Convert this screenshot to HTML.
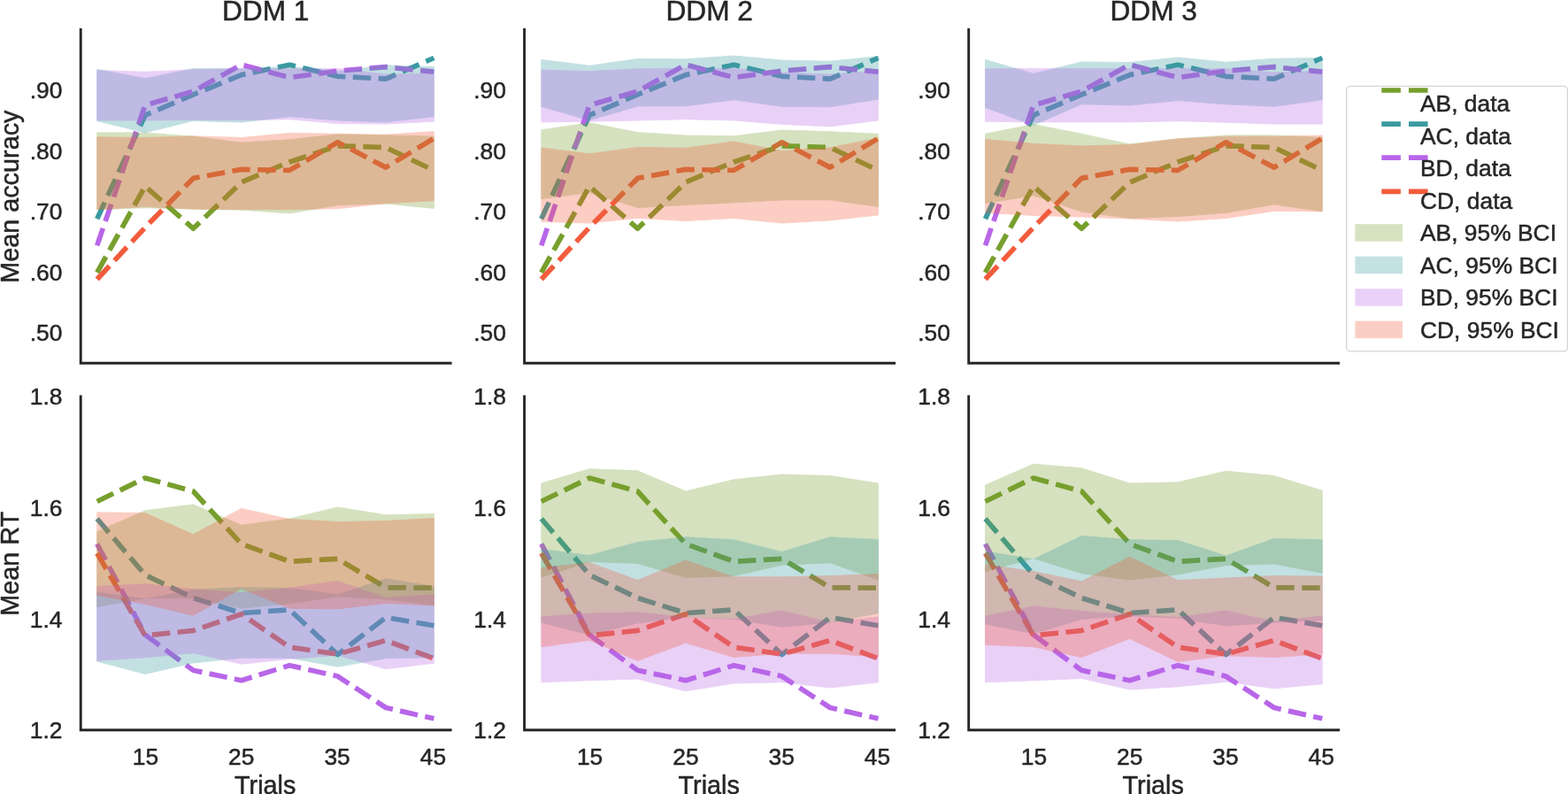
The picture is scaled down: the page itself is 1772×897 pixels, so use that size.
<!DOCTYPE html>
<html lang="en"><head><meta charset="utf-8"><title>DDM posterior predictive checks</title>
<style>html,body{margin:0;padding:0;background:#fff}body{width:1772px;height:897px;overflow:hidden}svg{display:block}text{font-family:"Liberation Sans",Arial,Helvetica,sans-serif;fill:#262626;stroke:#262626;stroke-width:0.5;stroke-linejoin:round}.t{font-size:26.4px}.l{font-size:28.8px}.h{font-size:31.7px}.g{font-size:26.4px}.sp{fill:none;stroke:#262626;stroke-width:2.9;stroke-linecap:butt;stroke-linejoin:miter}.ln{fill:none;stroke-width:5.7;stroke-dasharray:20.5 8.4;stroke-linejoin:round;stroke-linecap:butt}.bd{opacity:0.3;stroke-width:0.9;stroke-linejoin:round}.lp{fill-opacity:0.3;stroke:none}</style></head><body>
<svg width="1772" height="897" viewBox="0 0 1772 897">
<rect width="1772" height="897" fill="#fff"/>
<g>
<polyline class="ln" stroke="#779f2d" points="109.7,307.9 164,210.4 218.4,258.2 272.8,206 327.2,183 381.6,164.8 436,166.6 490.4,192.6"/>
<polyline class="ln" stroke="#3a9aa0" points="109.7,247.2 164,130.2 218.4,106.9 272.8,84.6 327.2,73.2 381.6,86.3 436,89.1 490.4,65.5"/>
<polyline class="ln" stroke="#b866e8" points="109.7,277.3 164,118.9 218.4,103.1 272.8,73.1 327.2,87.6 381.6,80.1 436,75.7 490.4,81.2"/>
<polyline class="ln" stroke="#f25c3c" points="109.7,315.5 164,257 218.4,201.4 272.8,191.4 327.2,192.4 381.6,160.7 436,189.1 490.4,156.3"/>
<polygon class="bd" fill="#779f2d" stroke="#779f2d" points="109.7,149.8 164,150 218.4,154.1 272.8,161.1 327.2,157.8 381.6,151.8 436,152.8 490.4,154.2 490.4,235.4 436,230.1 381.6,231.7 327.2,241.1 272.8,237.2 218.4,236.2 164,234.8 109.7,236.7"/>
<polygon class="bd" fill="#3a9aa0" stroke="#3a9aa0" points="109.7,78.2 164,88.7 218.4,77.4 272.8,77.8 327.2,75.2 381.6,80.5 436,73.7 490.4,75.5 490.4,131.7 436,137.9 381.6,136 327.2,131.7 272.8,138.2 218.4,136.4 164,149.9 109.7,136.7"/>
<polygon class="bd" fill="#b866e8" stroke="#b866e8" points="109.7,79.5 164,81.2 218.4,78.7 272.8,77.4 327.2,77.8 381.6,77.4 436,84 490.4,83 490.4,137.2 436,140.1 381.6,139.6 327.2,134.8 272.8,135.8 218.4,135.5 164,136 109.7,136"/>
<polygon class="bd" fill="#f25c3c" stroke="#f25c3c" points="109.7,154.8 164,155.4 218.4,153.8 272.8,155.4 327.2,150.4 381.6,151.2 436,152.2 490.4,148.5 490.4,226.7 436,229.8 381.6,235.8 327.2,236.7 272.8,236.7 218.4,236.1 164,233.6 109.7,236.7"/>
<path class="sp" d="M91.2 32V410.3H510.6"/>
<text class="t" text-anchor="end" x="70.4" y="111.1">.90</text>
<text class="t" text-anchor="end" x="70.4" y="179.6">.80</text>
<text class="t" text-anchor="end" x="70.4" y="248.1">.70</text>
<text class="t" text-anchor="end" x="70.4" y="316.6">.60</text>
<text class="t" text-anchor="end" x="70.4" y="385.1">.50</text>
<text class="h" text-anchor="middle" x="300.2" y="23">DDM 1</text>
</g>
<g>
<polyline class="ln" stroke="#779f2d" points="611.8,307.9 666.1,210.4 720.5,258.2 774.9,206 829.3,183 883.7,164.8 938.1,166.6 992.5,192.6"/>
<polyline class="ln" stroke="#3a9aa0" points="611.8,247.2 666.1,130.2 720.5,106.9 774.9,84.6 829.3,73.2 883.7,86.3 938.1,89.1 992.5,65.5"/>
<polyline class="ln" stroke="#b866e8" points="611.8,277.3 666.1,118.9 720.5,103.1 774.9,73.1 829.3,87.6 883.7,80.1 938.1,75.7 992.5,81.2"/>
<polyline class="ln" stroke="#f25c3c" points="611.8,315.5 666.1,257 720.5,201.4 774.9,191.4 829.3,192.4 883.7,160.7 938.1,189.1 992.5,156.3"/>
<polygon class="bd" fill="#779f2d" stroke="#779f2d" points="611.8,146.8 666.1,138.8 720.5,149.6 774.9,153 829.3,153.8 883.7,146.9 938.1,148.8 992.5,151.3 992.5,233.4 938.1,225.9 883.7,225.9 829.3,228.9 774.9,231.6 720.5,234.6 666.1,217.6 611.8,224.6"/>
<polygon class="bd" fill="#3a9aa0" stroke="#3a9aa0" points="611.8,67.4 666.1,74.2 720.5,66.5 774.9,66.8 829.3,63 883.7,68 938.1,69.2 992.5,63.7 992.5,112.1 938.1,120.8 883.7,120.3 829.3,112.8 774.9,119.8 720.5,120 666.1,136 611.8,120.3"/>
<polygon class="bd" fill="#b866e8" stroke="#b866e8" points="611.8,79 666.1,80.5 720.5,77.8 774.9,77 829.3,77.4 883.7,81.8 938.1,84 992.5,79.9 992.5,136 938.1,142.9 883.7,140.4 829.3,136 774.9,134.8 720.5,136 666.1,137.2 611.8,137.9"/>
<polygon class="bd" fill="#f25c3c" stroke="#f25c3c" points="611.8,166.9 666.1,173.8 720.5,166.4 774.9,167.2 829.3,159.9 883.7,170.4 938.1,166.8 992.5,155.9 992.5,242.9 938.1,248.9 883.7,252.1 829.3,246.6 774.9,249.6 720.5,246.4 666.1,252.1 611.8,250.4"/>
<path class="sp" d="M592.6 32V410.3H1012.1"/>
<text class="t" text-anchor="end" x="571.9" y="111.1">.90</text>
<text class="t" text-anchor="end" x="571.9" y="179.6">.80</text>
<text class="t" text-anchor="end" x="571.9" y="248.1">.70</text>
<text class="t" text-anchor="end" x="571.9" y="316.6">.60</text>
<text class="t" text-anchor="end" x="571.9" y="385.1">.50</text>
<text class="h" text-anchor="middle" x="801.7" y="23">DDM 2</text>
</g>
<g>
<polyline class="ln" stroke="#779f2d" points="1113.5,307.9 1167.9,210.4 1222.3,258.2 1276.7,206 1331.1,183 1385.5,164.8 1439.9,166.6 1494.3,192.6"/>
<polyline class="ln" stroke="#3a9aa0" points="1113.5,247.2 1167.9,130.2 1222.3,106.9 1276.7,84.6 1331.1,73.2 1385.5,86.3 1439.9,89.1 1494.3,65.5"/>
<polyline class="ln" stroke="#b866e8" points="1113.5,277.3 1167.9,118.9 1222.3,103.1 1276.7,73.1 1331.1,87.6 1385.5,80.1 1439.9,75.7 1494.3,81.2"/>
<polyline class="ln" stroke="#f25c3c" points="1113.5,315.5 1167.9,257 1222.3,201.4 1276.7,191.4 1331.1,192.4 1385.5,160.7 1439.9,189.1 1494.3,156.3"/>
<polygon class="bd" fill="#779f2d" stroke="#779f2d" points="1113.5,151.2 1167.9,140.6 1222.3,151.2 1276.7,162.9 1331.1,156.8 1385.5,152.9 1439.9,152.9 1494.3,155.4 1494.3,238.9 1439.9,230.9 1385.5,240.4 1331.1,244.6 1276.7,246.6 1222.3,239.1 1167.9,220.9 1113.5,229.6"/>
<polygon class="bd" fill="#3a9aa0" stroke="#3a9aa0" points="1113.5,67.4 1167.9,83.2 1222.3,69.9 1276.7,70.5 1331.1,64.9 1385.5,70.2 1439.9,66.2 1494.3,65.5 1494.3,112.8 1439.9,120.3 1385.5,117.8 1331.1,113.6 1276.7,119 1222.3,117.8 1167.9,141.4 1113.5,121.5"/>
<polygon class="bd" fill="#b866e8" stroke="#b866e8" points="1113.5,77.8 1167.9,77.4 1222.3,77.4 1276.7,77.4 1331.1,77.4 1385.5,77.8 1439.9,81.8 1494.3,80.5 1494.3,140.1 1439.9,140.1 1385.5,138.2 1331.1,136.7 1276.7,137.9 1222.3,137.9 1167.9,137.9 1113.5,137.2"/>
<polygon class="bd" fill="#f25c3c" stroke="#f25c3c" points="1113.5,157.4 1167.9,162.2 1222.3,164.9 1276.7,163.4 1331.1,156.8 1385.5,154.2 1439.9,154.2 1494.3,152.9 1494.3,238.9 1439.9,238.4 1385.5,246.6 1331.1,250.1 1276.7,247.1 1222.3,245.1 1167.9,243.4 1113.5,240.4"/>
<path class="sp" d="M1094.7 32V410.3H1514.1"/>
<text class="t" text-anchor="end" x="1073.9" y="111.1">.90</text>
<text class="t" text-anchor="end" x="1073.9" y="179.6">.80</text>
<text class="t" text-anchor="end" x="1073.9" y="248.1">.70</text>
<text class="t" text-anchor="end" x="1073.9" y="316.6">.60</text>
<text class="t" text-anchor="end" x="1073.9" y="385.1">.50</text>
<text class="h" text-anchor="middle" x="1303.7" y="23">DDM 3</text>
</g>
<g>
<polyline class="ln" stroke="#779f2d" points="109.7,566.5 164,540 218.4,555 272.8,614.5 327.2,634.3 381.6,631.3 436,663.8 490.4,664.2"/>
<polyline class="ln" stroke="#3a9aa0" points="109.7,586 164,649.5 218.4,675.5 272.8,692.6 327.2,688.8 381.6,739.5 436,697.5 490.4,706.7"/>
<polyline class="ln" stroke="#b866e8" points="109.7,614.5 164,717 218.4,757.3 272.8,768.7 327.2,751.7 381.6,764 436,799.5 490.4,811.8"/>
<polyline class="ln" stroke="#f25c3c" points="109.7,625 164,718 218.4,712.4 272.8,693.8 327.2,731.2 381.6,739 436,723.5 490.4,744"/>
<polygon class="bd" fill="#779f2d" stroke="#779f2d" points="109.7,600.7 164,576.7 218.4,570 272.8,593.2 327.2,586 381.6,573 436,581.8 490.4,580.5 490.4,683.8 436,677 381.6,673.8 327.2,681.8 272.8,687.3 218.4,675.6 164,675.9 109.7,685.6"/>
<polygon class="bd" fill="#3a9aa0" stroke="#3a9aa0" points="109.7,669.1 164,676.6 218.4,666.2 272.8,663.6 327.2,664.5 381.6,671.7 436,653.7 490.4,662.7 490.4,742.8 436,743.8 381.6,753.3 327.2,743.3 272.8,743.3 218.4,748.9 164,761.5 109.7,747.1"/>
<polygon class="bd" fill="#b866e8" stroke="#b866e8" points="109.7,662.4 164,659.7 218.4,665.7 272.8,669.7 327.2,664.2 381.6,656.4 436,675.5 490.4,671.7 490.4,749.2 436,755.8 381.6,740.2 327.2,744.6 272.8,750.2 218.4,737.8 164,742.8 109.7,746.4"/>
<polygon class="bd" fill="#f25c3c" stroke="#f25c3c" points="109.7,578.8 164,579.5 218.4,603.8 272.8,574.4 327.2,586.5 381.6,589.5 436,588.5 490.4,585.5 490.4,684.1 436,681.5 381.6,687.9 327.2,687.3 272.8,664.9 218.4,695.3 164,682.5 109.7,672.5"/>
<path class="sp" d="M91.2 446.5V824.7H510.6"/>
<text class="t" text-anchor="end" x="70.4" y="456.6">1.8</text>
<text class="t" text-anchor="end" x="70.4" y="582.6">1.6</text>
<text class="t" text-anchor="end" x="70.4" y="708.6">1.4</text>
<text class="t" text-anchor="end" x="70.4" y="834.1">1.2</text>
<text class="t" text-anchor="middle" x="164.5" y="863.8">15</text>
<text class="t" text-anchor="middle" x="272.8" y="863.8">25</text>
<text class="t" text-anchor="middle" x="381.1" y="863.8">35</text>
<text class="t" text-anchor="middle" x="489.4" y="863.8">45</text>
<text class="l" text-anchor="middle" x="299.7" y="896.5">Trials</text>
</g>
<g>
<polyline class="ln" stroke="#779f2d" points="611.8,566.5 666.1,540 720.5,555 774.9,614.5 829.3,634.3 883.7,631.3 938.1,663.8 992.5,664.2"/>
<polyline class="ln" stroke="#3a9aa0" points="611.8,586 666.1,649.5 720.5,675.5 774.9,692.6 829.3,688.8 883.7,739.5 938.1,697.5 992.5,706.7"/>
<polyline class="ln" stroke="#b866e8" points="611.8,614.5 666.1,717 720.5,757.3 774.9,768.7 829.3,751.7 883.7,764 938.1,799.5 992.5,811.8"/>
<polyline class="ln" stroke="#f25c3c" points="611.8,625 666.1,718 720.5,712.4 774.9,693.8 829.3,731.2 883.7,739 938.1,723.5 992.5,744"/>
<polygon class="bd" fill="#779f2d" stroke="#779f2d" points="611.8,546 666.1,529.8 720.5,531.8 774.9,555 829.3,541.8 883.7,536 938.1,537.5 992.5,546 992.5,655 938.1,635.8 883.7,638.3 829.3,650.8 774.9,652.5 720.5,636.5 666.1,634.5 611.8,652"/>
<polygon class="bd" fill="#3a9aa0" stroke="#3a9aa0" points="611.8,620.5 666.1,627.5 720.5,612.5 774.9,606.8 829.3,609.8 883.7,623.5 938.1,606.8 992.5,609.8 992.5,692.8 938.1,703.3 883.7,708.3 829.3,699.5 774.9,697 720.5,704 666.1,717 611.8,703.3"/>
<polygon class="bd" fill="#b866e8" stroke="#b866e8" points="611.8,696.8 666.1,693 720.5,691.8 774.9,697.5 829.3,699.5 883.7,690 938.1,703.5 992.5,696.8 992.5,770.8 938.1,777 883.7,770.8 829.3,772 774.9,780.8 720.5,767 666.1,768.8 611.8,770.8"/>
<polygon class="bd" fill="#f25c3c" stroke="#f25c3c" points="611.8,641.8 666.1,635.5 720.5,655.5 774.9,633 829.3,651.8 883.7,651.8 938.1,650.5 992.5,648.5 992.5,742 938.1,738.3 883.7,738.3 829.3,742.5 774.9,726.3 720.5,746.5 666.1,723.3 611.8,730.8"/>
<path class="sp" d="M592.6 446.5V824.7H1012.1"/>
<text class="t" text-anchor="end" x="571.9" y="456.6">1.8</text>
<text class="t" text-anchor="end" x="571.9" y="582.6">1.6</text>
<text class="t" text-anchor="end" x="571.9" y="708.6">1.4</text>
<text class="t" text-anchor="end" x="571.9" y="834.1">1.2</text>
<text class="t" text-anchor="middle" x="666.6" y="863.8">15</text>
<text class="t" text-anchor="middle" x="774.9" y="863.8">25</text>
<text class="t" text-anchor="middle" x="883.2" y="863.8">35</text>
<text class="t" text-anchor="middle" x="991.5" y="863.8">45</text>
<text class="l" text-anchor="middle" x="801.2" y="896.5">Trials</text>
</g>
<g>
<polyline class="ln" stroke="#779f2d" points="1113.5,566.5 1167.9,540 1222.3,555 1276.7,614.5 1331.1,634.3 1385.5,631.3 1439.9,663.8 1494.3,664.2"/>
<polyline class="ln" stroke="#3a9aa0" points="1113.5,586 1167.9,649.5 1222.3,675.5 1276.7,692.6 1331.1,688.8 1385.5,739.5 1439.9,697.5 1494.3,706.7"/>
<polyline class="ln" stroke="#b866e8" points="1113.5,614.5 1167.9,717 1222.3,757.3 1276.7,768.7 1331.1,751.7 1385.5,764 1439.9,799.5 1494.3,811.8"/>
<polyline class="ln" stroke="#f25c3c" points="1113.5,625 1167.9,718 1222.3,712.4 1276.7,693.8 1331.1,731.2 1385.5,739 1439.9,723.5 1494.3,744"/>
<polygon class="bd" fill="#779f2d" stroke="#779f2d" points="1113.5,548 1167.9,524.2 1222.3,528.8 1276.7,546 1331.1,544.8 1385.5,532.2 1439.9,537.5 1494.3,554.2 1494.3,647.5 1439.9,637 1385.5,638.8 1331.1,649 1276.7,655 1222.3,647.8 1167.9,630.8 1113.5,645.8"/>
<polygon class="bd" fill="#3a9aa0" stroke="#3a9aa0" points="1113.5,623 1167.9,631.8 1222.3,605.5 1276.7,609.8 1331.1,610.5 1385.5,628 1439.9,608.5 1494.3,609.8 1494.3,700.8 1439.9,703.3 1385.5,707 1331.1,698.3 1276.7,695.8 1222.3,699.5 1167.9,715.8 1113.5,705"/>
<polygon class="bd" fill="#b866e8" stroke="#b866e8" points="1113.5,696 1167.9,685 1222.3,690.5 1276.7,694.8 1331.1,697.5 1385.5,690 1439.9,702.2 1494.3,696 1494.3,772.8 1439.9,777.8 1385.5,770.3 1331.1,775.8 1276.7,779 1222.3,766.5 1167.9,768.8 1113.5,770.8"/>
<polygon class="bd" fill="#f25c3c" stroke="#f25c3c" points="1113.5,638 1167.9,645.5 1222.3,656.8 1276.7,629.2 1331.1,655.5 1385.5,653 1439.9,650.5 1494.3,651 1494.3,739 1439.9,742.5 1385.5,740.8 1331.1,747.5 1276.7,721.5 1222.3,742.5 1167.9,730.8 1113.5,728.3"/>
<path class="sp" d="M1094.7 446.5V824.7H1514.1"/>
<text class="t" text-anchor="end" x="1073.9" y="456.6">1.8</text>
<text class="t" text-anchor="end" x="1073.9" y="582.6">1.6</text>
<text class="t" text-anchor="end" x="1073.9" y="708.6">1.4</text>
<text class="t" text-anchor="end" x="1073.9" y="834.1">1.2</text>
<text class="t" text-anchor="middle" x="1168.4" y="863.8">15</text>
<text class="t" text-anchor="middle" x="1276.7" y="863.8">25</text>
<text class="t" text-anchor="middle" x="1385" y="863.8">35</text>
<text class="t" text-anchor="middle" x="1493.3" y="863.8">45</text>
<text class="l" text-anchor="middle" x="1303.2" y="896.5">Trials</text>
</g>
<text class="l" text-anchor="middle" transform="translate(21 222.2) rotate(-90)">Mean accuracy</text>
<text class="l" text-anchor="middle" transform="translate(21 636.8) rotate(-90)">Mean RT</text>
<rect x="1521.7" y="97.4" width="249.7" height="299.5" rx="4.2" fill="#fff" fill-opacity="0.8" stroke="#d5d5d5" stroke-width="1.3"/>
<path class="ln" style="stroke-dasharray:21.6 9.1;stroke-width:5.7" stroke="#779f2d" d="M1561.3 102H1613.6"/>
<text class="g" x="1605" y="126.1">AB, data</text>
<path class="ln" style="stroke-dasharray:21.6 9.1;stroke-width:5.7" stroke="#3a9aa0" d="M1561.3 140.1H1613.6"/>
<text class="g" x="1605" y="162.6">AC, data</text>
<path class="ln" style="stroke-dasharray:21.6 9.1;stroke-width:5.7" stroke="#b866e8" d="M1561.3 178.2H1613.6"/>
<text class="g" x="1605" y="199.1">BD, data</text>
<path class="ln" style="stroke-dasharray:21.6 9.1;stroke-width:5.7" stroke="#f25c3c" d="M1561.3 216.3H1613.6"/>
<text class="g" x="1605" y="235.6">CD, data</text>
<rect class="lp" fill="#779f2d" x="1531.4" y="253.2" width="53.6" height="19.5"/>
<text class="g" x="1605" y="272.1">AB, 95% BCI</text>
<rect class="lp" fill="#3a9aa0" x="1531.4" y="289.7" width="53.6" height="19.5"/>
<text class="g" x="1605" y="308.6">AC, 95% BCI</text>
<rect class="lp" fill="#b866e8" x="1531.4" y="326.2" width="53.6" height="19.5"/>
<text class="g" x="1605" y="345.1">BD, 95% BCI</text>
<rect class="lp" fill="#f25c3c" x="1531.4" y="362.7" width="53.6" height="19.5"/>
<text class="g" x="1605" y="381.6">CD, 95% BCI</text>
</svg></body></html>
